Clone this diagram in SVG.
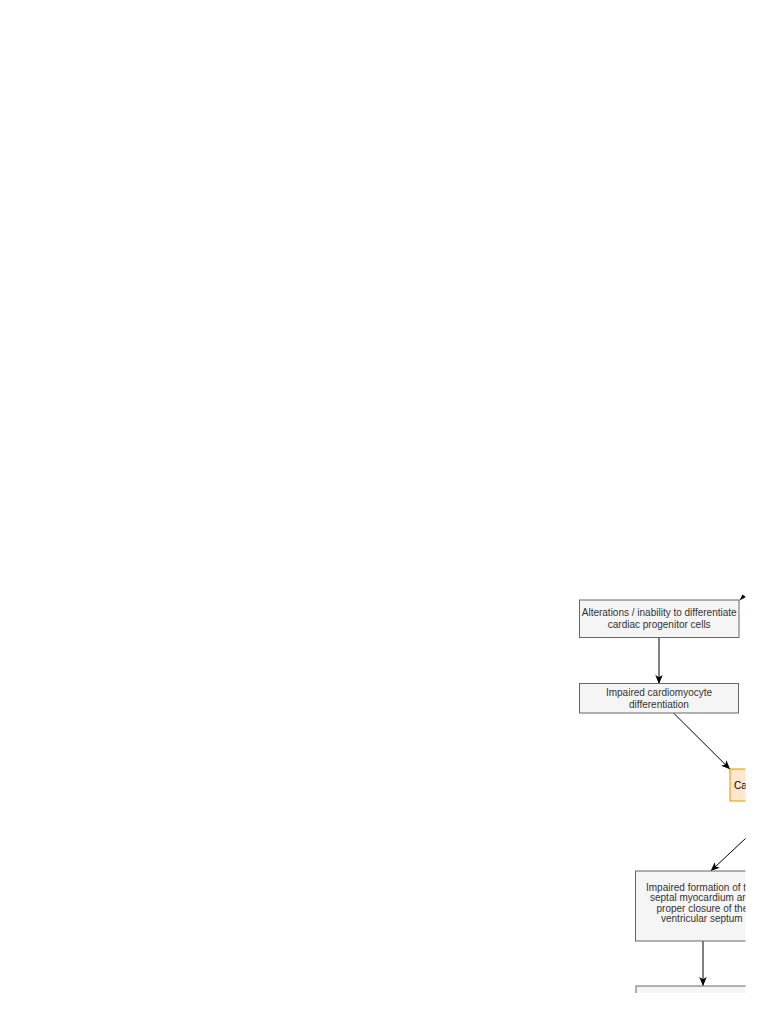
<svg xmlns="http://www.w3.org/2000/svg" width="768" height="1024" viewBox="0 0 768 1024">
<style>
.box{fill:#f5f5f5;stroke:#666666;stroke-width:1}
.org{fill:#ffe6cc;stroke:#d79b00;stroke-width:1}
.t{font-family:"Liberation Sans",Arial,sans-serif;font-size:10px;fill:#333333}
.tb{font-family:"Liberation Sans",Arial,sans-serif;font-size:10px;fill:#000000}
.c{text-anchor:middle}
.edge{fill:none;stroke:#000000;stroke-width:1;marker-end:url(#arr)}
</style>
<defs>
<marker id="arr" viewBox="0 0 10 10" refX="9.5" refY="5" markerWidth="9" markerHeight="9" markerUnits="userSpaceOnUse" orient="auto">
<path d="M0,0.8 L10,5 L0,9.2 L2.5,5 z" fill="#000000"/>
</marker>
<clipPath id="view"><rect x="0" y="0" width="745.5" height="993"/></clipPath>
</defs>
<rect x="0" y="0" width="768" height="1024" fill="#ffffff"/>
<g clip-path="url(#view)">
<g id="connectors">
<path class="edge" d="M659,637.5 L659,683.5"/>
<path class="edge" d="M673.5,713 L729.8,769"/>
<path class="edge" d="M746,838 L711,870.8"/>
<path class="edge" d="M703,941 L703,985.5"/>
<polygon points="739.5,600.5 742.5,594.5 746,597" fill="#000000"/>
</g>
<g id="node-alterations">
<rect class="box" x="579.5" y="600" width="159.5" height="37.5"/>
<text class="t c" x="659.2" y="615.5">Alterations / inability to differentiate</text>
<text class="t c" x="659.2" y="627.5">cardiac progenitor cells</text>
</g>
<g id="node-impaired-differentiation">
<rect class="box" x="579.5" y="683.5" width="159" height="29.5"/>
<text class="t c" x="659" y="695.5">Impaired cardiomyocyte</text>
<text class="t c" x="659" y="707.5">differentiation</text>
</g>
<g id="node-orange">
<rect class="org" x="730" y="769" width="100" height="32"/>
<text class="tb" x="734" y="788.5">Ca</text>
</g>
<g id="node-septal">
<rect class="box" x="635.5" y="871" width="140" height="70"/>
<text class="t" x="646" y="890.5">Impaired formation of t</text>
<text class="t" x="650" y="901">septal myocardium ar</text>
<text class="t" x="656.5" y="911.5">proper closure of the</text>
<text class="t" x="661" y="922">ventricular septum</text>
</g>
<g id="node-bottom">
<rect class="box" x="636" y="986" width="140" height="40"/>
</g>
</g>
</svg>
